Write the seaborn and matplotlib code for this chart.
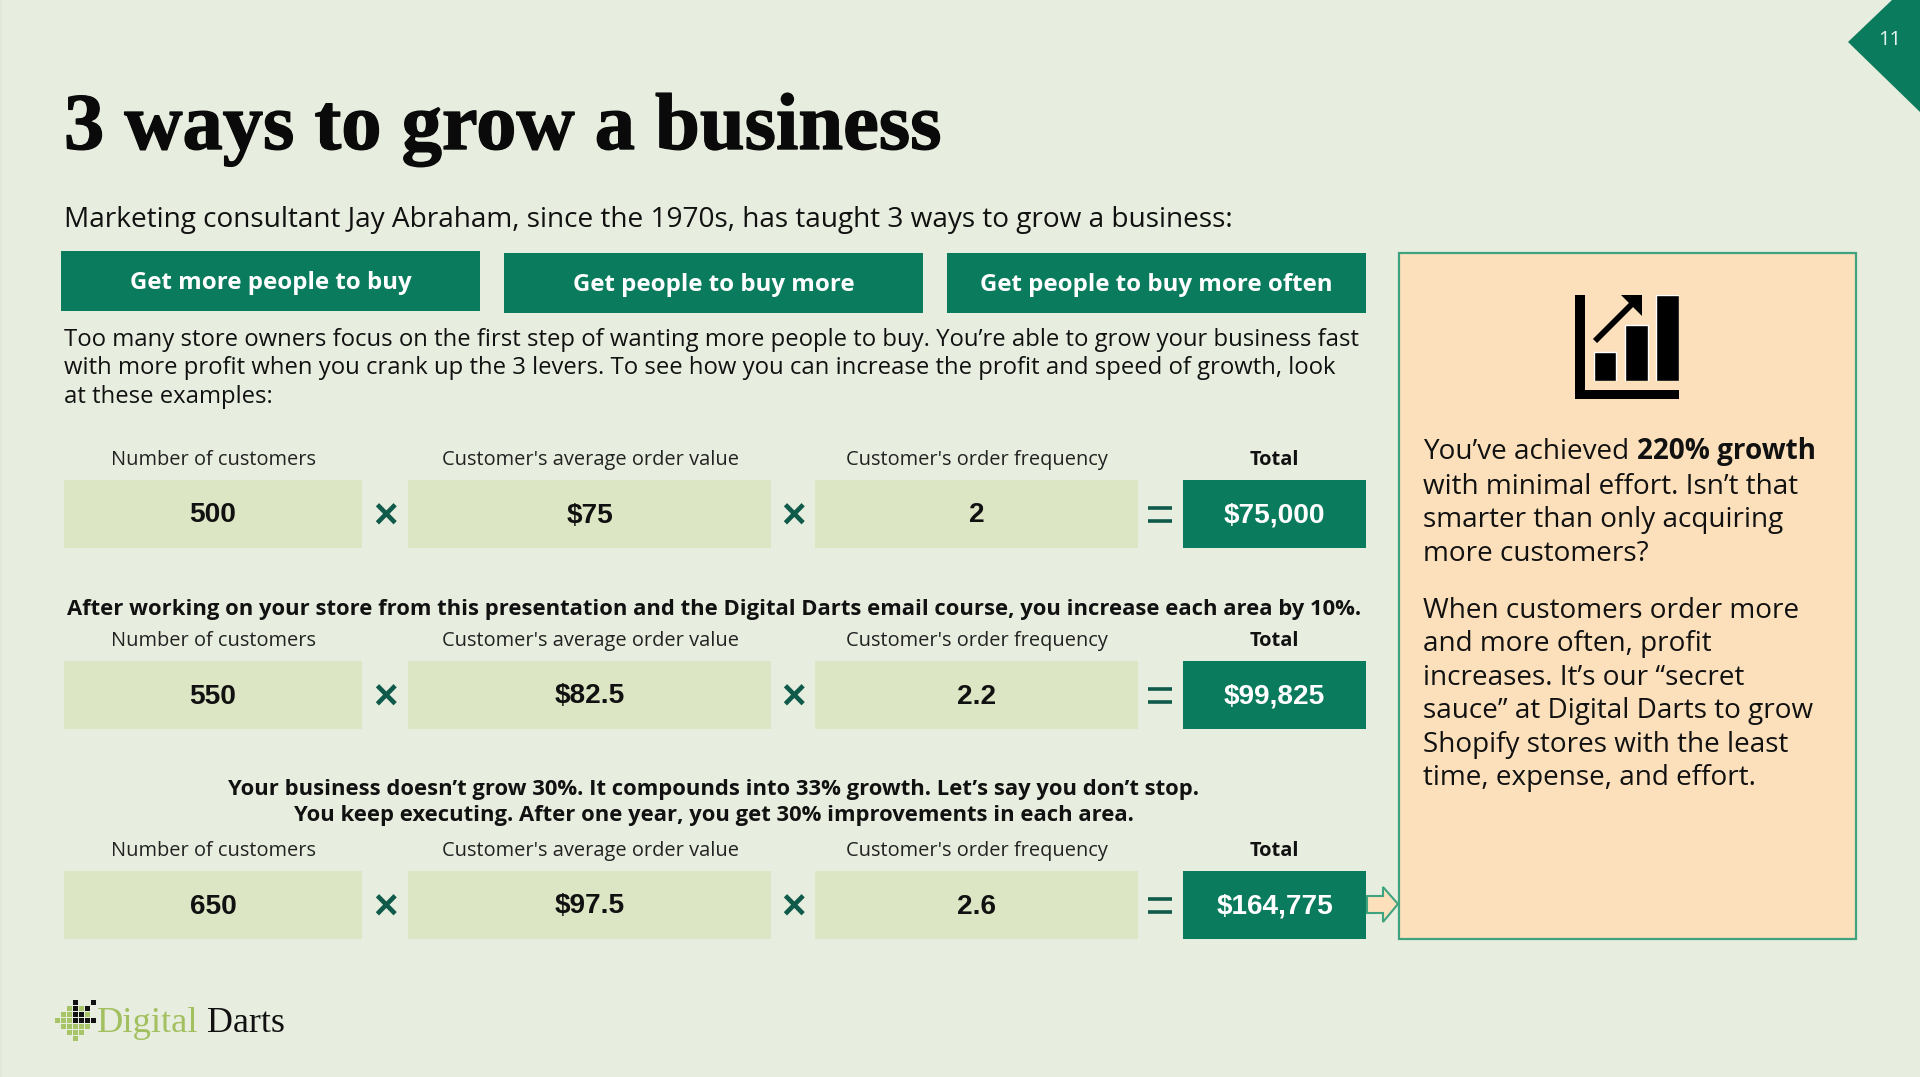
import numpy as np
import matplotlib
matplotlib.use("Agg")
import matplotlib.pyplot as plt
import matplotlib.patheffects as pe
from matplotlib.colors import ListedColormap
from matplotlib.patches import Rectangle, Polygon
import seaborn as sns

W, H = 1920, 1077

title = "3 ways to grow a business"
subtitle = "Marketing consultant Jay Abraham, since the 1970s, has taught 3 ways to grow a business:"
buttons = ["Get more people to buy", "Get people to buy more", "Get people to buy more often"]
para = ["Too many store owners focus on the first step of wanting more people to buy. You\u2019re able to grow your business fast",
        "with more profit when you crank up the 3 levers. To see how you can increase the profit and speed of growth, look",
        "at these examples:"]
headers = ["Number of customers", "Customer's average order value", "Customer's order frequency", "Total"]
customers = ["500", "550", "650"]
order_value = ["$75", "$82.5", "$97.5"]
frequency = ["2", "2.2", "2.6"]
totals = ["$75,000", "$99,825", "$164,775"]
note_1 = ["After working on your store from this presentation and the Digital Darts email course, you increase each area by 10%."]
note_2 = ["Your business doesn\u2019t grow 30%. It compounds into 33% growth. Let\u2019s say you don\u2019t stop.",
          "You keep executing. After one year, you get 30% improvements in each area."]
panel_1 = ["with minimal effort. Isn\u2019t that", "smarter than only acquiring", "more customers?"]
panel_2 = ["When customers order more", "and more often, profit", "increases. It\u2019s our \u201csecret",
           "sauce\u201d at Digital Darts to grow", "Shopify stores with the least", "time, expense, and effort."]
icon_bars = [29, 56, 86]
logo_cells = ["...1..1",
              "..2121.",
              ".22112.",
              "2221111",
              ".22222.",
              "..222..",
              "...2..."]

BG = "#E8EEDF"
LIGHT = "#DCE6C4"
DARK = "#0B7B5E"
PEACH = "#FCE0BC"
EDGE = "#3FA37F"
OPS = "#0F5A4A"

sns.set_theme(style="white")
plt.rcParams["font.family"] = ["Open Sans", "DejaVu Sans"]

fig = plt.figure(figsize=(W / 100, H / 100), dpi=100, facecolor=BG)
ax = fig.add_axes([0, 0, 1, 1])
ax.set_xlim(0, W)
ax.set_ylim(H, 0)
ax.axis("off")


def pt(px):
    return px * 0.72


def txt(x, y, s, px, color="#111111", weight="normal", ha="left", family=None, va="center"):
    kw = {"family": family} if family else {}
    return ax.text(x, y, s, fontsize=pt(px), color=color, fontweight=weight, ha=ha, va=va, **kw)


def inset(x0, y0, x1, y1):
    a = fig.add_axes([x0 / W, 1 - y1 / H, (x1 - x0) / W, (y1 - y0) / H])
    a.patch.set_alpha(0)
    return a


ax.add_patch(Rectangle((0, 0), 2, H, fc="#E1E9D9", ec="none"))

# title and intro
t = txt(64, 149, title, 80.5, color="#0A0A0A", weight="bold", family="Liberation Serif", va="baseline")
t.set_path_effects([pe.withStroke(linewidth=1.0, foreground="#0A0A0A")])
txt(64, 219.5, subtitle, 27.97)

# buttons
btn_boxes = [(61, 251, 480, 311), (504, 253, 923, 313), (947, 253, 1366, 313)]
for (x0, y0, x1, y1), s in zip(btn_boxes, buttons):
    ax.add_patch(Rectangle((x0, y0), x1 - x0, y1 - y0, fc=DARK, ec="none"))
    txt((x0 + x1) / 2, (y0 + y1) / 2 + 2, s, 24, color="white", weight="bold", ha="center")

for y, s in zip([339.5, 368, 397], para):
    txt(64, y, s, 23.93)

# the three rows of boxes
cols = [(64, 362), (408, 771), (815, 1138), (1183, 1366)]
row_boxes = [(480, 548), (661, 729), (871, 939)]
head_y = [460, 641, 851]
for i, (y0, y1) in enumerate(row_boxes):
    values = [customers[i], order_value[i], frequency[i], totals[i]]
    ym = (y0 + y1) / 2
    for j, (x0, x1) in enumerate(cols):
        last = j == 3
        ax.add_patch(Rectangle((x0, y0), x1 - x0, y1 - y0, fc=DARK if last else LIGHT, ec="none"))
        txt((x0 + x1) / 2, ym + 1.5, values[j], 28, color="white" if last else "#111111",
            weight="bold", ha="center", family="Liberation Sans")
        txt((x0 + x1) / 2 + (0 if last else 0.8), head_y[i], headers[j], 20, weight="bold" if last else "normal",
            ha="center", color="#111111" if last else "#222222")
    for x in (385, 793):
        txt(x, ym + 3.5, "\u00d7", 42, color=OPS, weight="bold", ha="center", family="Liberation Sans")
    ax.plot([1148, 1172], [ym - 6.5, ym - 6.5], color=OPS, lw=2.6, solid_capstyle="butt")
    ax.plot([1148, 1172], [ym + 6.5, ym + 6.5], color=OPS, lw=2.6, solid_capstyle="butt")

txt(714, 610, note_1[0], 21.98, weight="bold", ha="center")
for y, s in zip([790, 816], note_2):
    txt(714, y, s, 21.98, weight="bold", ha="center")

# right panel
ax.add_patch(Rectangle((1398.5, 253), 457.5, 686, fc=PEACH, ec=EDGE, lw=1.6))
ax.add_patch(Polygon([(1367, 896), (1383, 896), (1383, 887), (1398, 904), (1383, 922), (1383, 913), (1367, 913)],
                     fc=PEACH, ec=EDGE, lw=1.5))

# icon
ax.add_patch(Rectangle((1575, 295), 9.5, 104, fc="black", ec="none"))
ax.add_patch(Rectangle((1575, 390), 104, 9, fc="black", ec="none"))
ax.plot([1595, 1633], [341, 303], color="black", lw=4.2, solid_capstyle="butt")
ax.add_patch(Polygon([(1621, 295), (1642, 295), (1642, 316)], fc="black", ec="none"))
icon_ax = inset(1593.5, 295, 1679, 381)
sns.barplot(x=["a", "b", "c"], y=icon_bars, color="black", saturation=1, width=0.73, ax=icon_ax)
icon_ax.set_xlim(-0.365, 2.365)
icon_ax.set_ylim(0, 86)
icon_ax.axis("off")

txt(1423, 452, "You\u2019ve achieved ", 27.9)
txt(1637, 452, "220% growth", 27.95, weight="bold")
for y, s in zip([487, 520, 554], panel_1):
    txt(1423, y, s, 27.9)
for y, s in zip([611, 644, 678, 711, 745, 778], panel_2):
    txt(1423, y, s, 27.9)

# page marker
ax.add_patch(Polygon([(1848, 42), (1892, 0), (1920, 0), (1920, 112)], fc=DARK, ec="none"))
txt(1890, 40, "11", 20, color="#E8F4EE", ha="center")

# logo
grid = np.array([[{".": np.nan, "1": 1, "2": 0}[c] for c in row] for row in logo_cells], dtype=float)
logo_ax = inset(54, 999, 96, 1041)
sns.heatmap(grid, cmap=ListedColormap(["#A7C468", "#111111"]), vmin=0, vmax=1, cbar=False,
            linewidths=0.4, linecolor=BG, xticklabels=False, yticklabels=False, ax=logo_ax)
logo_ax.patch.set_alpha(0)
txt(97, 1032, "Digital", 36.5, color="#A2C05F", family="Liberation Serif", va="baseline")
txt(206.5, 1032, "Darts", 36, color="#111111", family="Liberation Serif", va="baseline")

fig.savefig("out.png", dpi=100, facecolor=BG)
